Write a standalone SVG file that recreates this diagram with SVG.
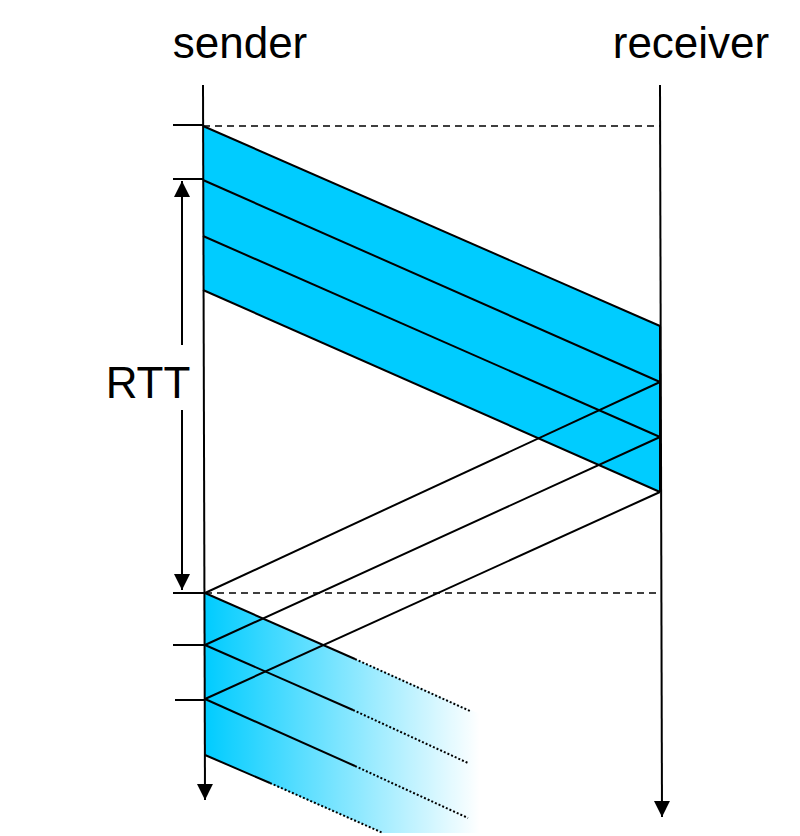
<svg xmlns="http://www.w3.org/2000/svg" width="800" height="836" viewBox="0 0 800 836">
<defs>
<linearGradient id="fade" x1="205" y1="0" x2="480" y2="0" gradientUnits="userSpaceOnUse">
<stop offset="0" stop-color="#00ccff"/><stop offset="1" stop-color="#00ccff" stop-opacity="0"/>
</linearGradient>
<marker id="ahb" viewBox="0 0 10 10" refX="10" refY="5" markerWidth="16" markerHeight="16" markerUnits="userSpaceOnUse" orient="auto"><path d="M0,0 L10,5 L0,10 z" fill="#000"/></marker>
</defs>
<style>
.l{stroke:#000;stroke-width:2;fill:none}
.d{stroke:#000;stroke-width:1.5;stroke-dasharray:7 5;fill:none}
.dot{stroke:#000;stroke-width:2;stroke-dasharray:2 2;fill:none}
text{font-family:"Liberation Sans",Arial,sans-serif;fill:#000}
</style>
<g id="fills">
<polygon points="203,126 660,326 660,492 203,290" fill="#00ccff"/>
<polygon points="205,593 480,714 480,833 383,833 205,755" fill="url(#fade)"/>
</g>
<g id="sender"><text x="240" y="58" font-size="44" text-anchor="middle">sender</text>
<line class="l" x1="203" y1="85" x2="205" y2="800" marker-end="url(#ahb)"/></g>
<g id="receiver"><text x="691" y="58" font-size="44" text-anchor="middle">receiver</text>
<line class="l" x1="660" y1="85" x2="662" y2="817" marker-end="url(#ahb)"/></g>
<g id="connectors">
<line class="d" x1="203" y1="126" x2="660" y2="126"/>
<line class="d" x1="205" y1="593" x2="660" y2="593"/>
<line class="l" x1="173" y1="125" x2="203" y2="125"/>
<line class="l" x1="173" y1="179" x2="203" y2="179"/>
<line class="l" x1="173" y1="593" x2="205" y2="593"/>
<line class="l" x1="173" y1="645" x2="205" y2="645"/>
<line class="l" x1="175" y1="700" x2="205" y2="700"/>
<line class="l" x1="203" y1="126" x2="660" y2="326"/>
<line class="l" x1="203" y1="180" x2="660" y2="382"/>
<line class="l" x1="203" y1="236" x2="660" y2="437"/>
<line class="l" x1="203" y1="290" x2="660" y2="492"/>
<line class="l" x1="660" y1="326" x2="660" y2="492"/>
<line class="l" x1="660" y1="382" x2="205" y2="593"/>
<line class="l" x1="660" y1="437" x2="205" y2="645"/>
<line class="l" x1="660" y1="492" x2="205" y2="699"/>
<line class="l" x1="205" y1="593" x2="355" y2="659"/>
<line class="dot" x1="355" y1="659" x2="470" y2="711"/>
<line class="l" x1="205" y1="645" x2="353" y2="710"/>
<line class="dot" x1="353" y1="710" x2="468" y2="763"/>
<line class="l" x1="205" y1="699" x2="355" y2="766"/>
<line class="dot" x1="355" y1="766" x2="468" y2="818"/>
<line class="l" x1="205" y1="755" x2="270" y2="783"/>
<line class="dot" x1="270" y1="783" x2="383" y2="833"/>
<line class="l" x1="182" y1="345" x2="182" y2="181" marker-end="url(#ahb)"/>
<line class="l" x1="182" y1="410" x2="182" y2="590" marker-end="url(#ahb)"/>
</g>
<g id="rtt"><text x="148" y="398" font-size="44" text-anchor="middle">RTT</text></g>
</svg>
